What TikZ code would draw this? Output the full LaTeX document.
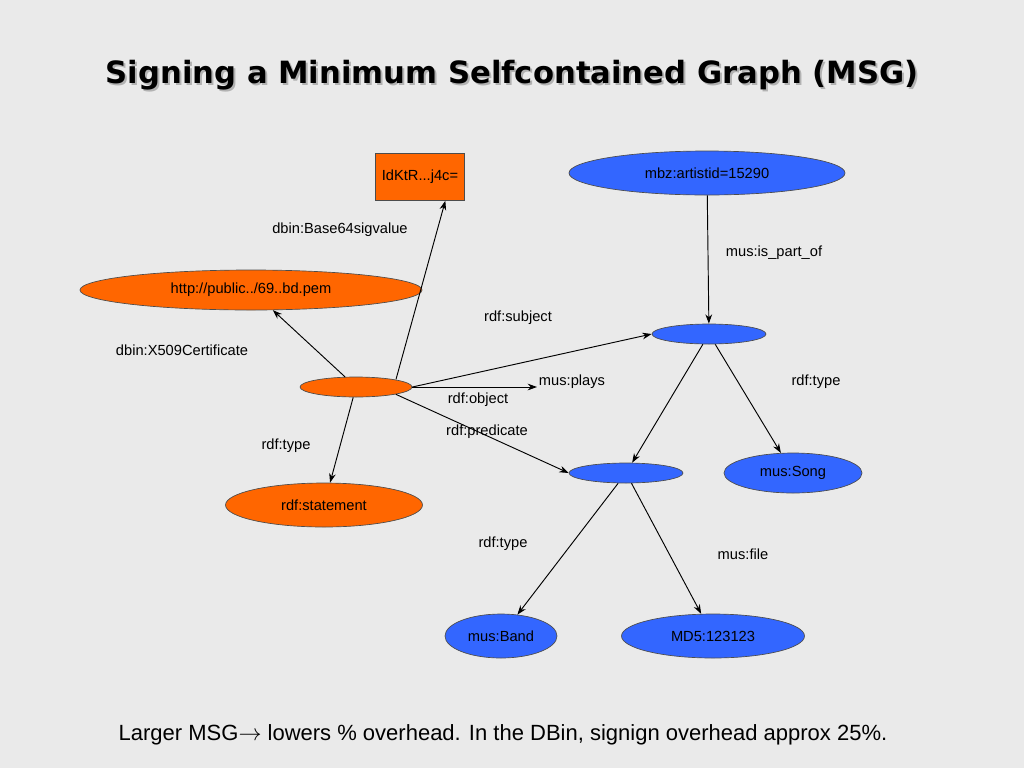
\documentclass[tikz,border=0pt]{standalone}
\usepackage{fontspec}
\setmainfont{Liberation Sans}
\newfontfamily\titlefont{DejaVu Sans}
\usetikzlibrary{shapes.geometric,arrows.meta}
\definecolor{bg}{HTML}{EAEAEA}
\definecolor{orng}{HTML}{FF6600}
\definecolor{blu}{HTML}{3366FF}
\begin{document}
\begin{tikzpicture}[x=0.75pt,y=-0.75pt,
 el/.style={ellipse,draw=black!70,line width=0.5pt,inner sep=0pt,font=\fontsize{11}{13}\selectfont},
 on/.style={el,fill=orng},
 bn/.style={el,fill=blu},
 lab/.style={font=\fontsize{11}{13}\selectfont,inner sep=0pt},
 ar/.style={-{Stealth[length=7pt,width=5pt]},line width=0.7pt}]
\fill[bg] (0,0) rectangle (1024,768);
\useasboundingbox (0,0) rectangle (1024,768);
\node[font=\titlefont\bfseries\fontsize{23}{26}\selectfont,text=gray!60] at (514,77) {Signing a Minimum Selfcontained Graph (MSG)};
\node[font=\titlefont\bfseries\fontsize{23}{26}\selectfont] (title) at (512,75) {Signing a Minimum Selfcontained Graph (MSG)};
\node[draw=black!70,fill=orng,minimum width=89*0.75pt,minimum height=47*0.75pt,inner sep=0pt,font=\fontsize{11}{13}\selectfont] (sig) at (420,177) {IdKtR...j4c=};
\node[bn,minimum width=276*0.75pt,minimum height=44*0.75pt] (mbz) at (707,173) {mbz:artistid=15290};
\node[on,minimum width=342*0.75pt,minimum height=40*0.75pt] (http) at (251,290) {http://public../69..bd.pem};
\node[on,minimum width=112*0.75pt,minimum height=20*0.75pt] (st) at (356,387) {};
\node[bn,minimum width=114*0.75pt,minimum height=20*0.75pt] (b1) at (709,334) {};
\node[bn,minimum width=114*0.75pt,minimum height=20*0.75pt] (b2) at (626,473) {};
\node[on,minimum width=197*0.75pt,minimum height=44*0.75pt] (stmt) at (324,505) {rdf:statement};
\node[bn,minimum width=138*0.75pt,minimum height=40*0.75pt] (song) at (793,473) {mus:Song};
\node[bn,minimum width=112*0.75pt,minimum height=44*0.75pt] (band) at (501,636) {mus:Band};
\node[bn,minimum width=183*0.75pt,minimum height=44*0.75pt] (md5) at (713,636) {MD5:123123};
\coordinate (pl) at (537,387);
\draw[ar] ([xshift=30pt,yshift=-2pt]st.north) -- ([xshift=19pt]sig.south);
\draw[ar] (st) -- (http);
\draw[ar] (st.east) -- (b1.west);
\draw[ar] (st.east) -- (pl);
\draw[ar] (st.south east) -- (b2.west);
\draw[ar] (st) -- (stmt);
\draw[ar] (mbz) -- (b1);
\draw[ar] (b1) -- (b2);
\draw[ar] (b1) -- (song);
\draw[ar] (b2) -- (band);
\draw[ar] (b2) -- (md5);
\node[lab] (l1) at (340,230) {dbin:Base64sigvalue};
\node[lab] (l2) at (182,350) {dbin:X509Certificate};
\node[lab] (l3) at (518,318) {rdf:subject};
\node[lab] (l4) at (572,382) {mus:plays};
\node[lab] (l5) at (478,400) {rdf:object};
\node[lab] (l6) at (487,432) {rdf:predicate};
\node[lab] (l7) at (286,446) {rdf:type};
\node[lab] (l8) at (774,253) {mus:is\_part\_of};
\node[lab] (l9) at (816,382) {rdf:type};
\node[lab] (l10) at (503,544) {rdf:type};
\node[lab] (l11) at (743,554) {mus:file};
\node[font=\fontsize{16.5}{19}\selectfont] (foot) at (503,735) {Larger MSG$\rightarrow$ lowers \% overhead. In the DBin, signign overhead approx 25\%.};
\end{tikzpicture}
\end{document}
